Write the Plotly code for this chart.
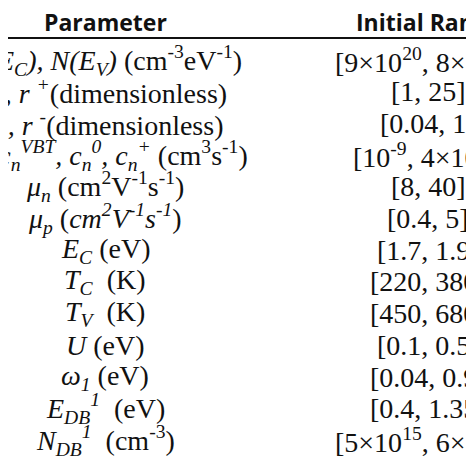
import plotly.graph_objects as go

headers = ["Parameter", "Initial Range"]
parameters = [
    "<i>N(E<sub>C</sub>), N(E<sub>V</sub>)</i> (cm<sup>-3</sup>eV<sup>-1</sup>)",
    "<i>r<sup>0</sup>, r <sup>+</sup></i>(dimensionless)",
    "<i>r<sup>0</sup>, r <sup>-</sup></i>(dimensionless)",
    "<i>c<sub>p</sub>, c<sub>n</sub><sup>VBT</sup>, c<sub>n</sub><sup>0</sup>, c<sub>n</sub><sup>+</sup></i> (cm<sup>3</sup>s<sup>-1</sup>)",
    "<i>μ<sub>n</sub></i> (cm<sup>2</sup>V<sup>-1</sup>s<sup>-1</sup>)",
    "<i>μ<sub>p</sub></i> (<i>cm<sup>2</sup>V<sup>-1</sup>s<sup>-1</sup></i>)",
    "<i>E<sub>C</sub></i> (eV)",
    "<i>T<sub>C</sub></i>  (K)",
    "<i>T<sub>V</sub></i>  (K)",
    "<i>U</i> (eV)",
    "<i>ω<sub>1</sub></i> (eV)",
    "<i>E<sub>DB</sub><sup>1</sup></i>  (eV)",
    "<i>N<sub>DB</sub><sup>1</sup></i>  (cm<sup>-3</sup>)",
]
ranges = [
    "[9×10<sup>20</sup>, 8×10<sup>21</sup>]",
    "[1, 25]",
    "[0.04, 1]",
    "[10<sup>-9</sup>, 4×10<sup>-7</sup>]",
    "[8, 40]",
    "[0.4, 5]",
    "[1.7, 1.9]",
    "[220, 380]",
    "[450, 680]",
    "[0.1, 0.5]",
    "[0.04, 0.9]",
    "[0.4, 1.35]",
    "[5×10<sup>15</sup>, 6×10<sup>17</sup>]",
]

fig = go.Figure()
fig.update_layout(
    width=474, height=474, margin=dict(l=0, r=0, t=0, b=0),
    paper_bgcolor="white", plot_bgcolor="white",
    xaxis=dict(range=[0, 474], visible=False, fixedrange=True),
    yaxis=dict(range=[474, 0], visible=False, fixedrange=True),
    showlegend=False,
)
col_x = [97, 420]
for cx, h in zip(col_x, headers):
    fig.add_annotation(x=cx, y=14, text=f"<b>{h}</b>", showarrow=False,
                       xanchor="center", yanchor="middle",
                       font=dict(family="Open Sans", size=23, color="#111"))
row_y0, step = 52, 31.7
for i, (p, r) in enumerate(zip(parameters, ranges)):
    y = row_y0 + i * step
    for cx, t in zip(col_x, [p, r]):
        fig.add_annotation(x=cx, y=y, text=t, showarrow=False,
                           xanchor="center", yanchor="middle",
                           font=dict(family="Liberation Serif", size=28, color="#111"))
fig.add_shape(type="line", x0=0, x1=474, y0=30, y1=30, line=dict(color="#111", width=2))
fig.add_shape(type="line", x0=0, x1=474, y0=472, y1=472, line=dict(color="#555", width=5))
fig.write_html("out.html")
